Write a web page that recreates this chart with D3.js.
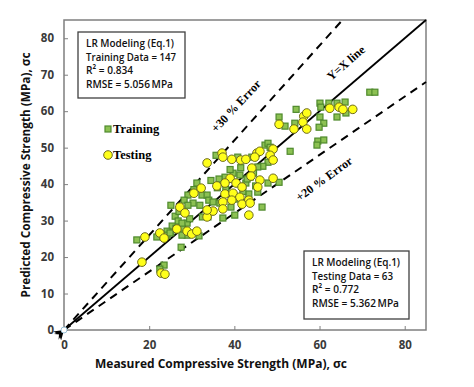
<!DOCTYPE html>
<html><head><meta charset="utf-8">
<script src="https://cdn.jsdelivr.net/npm/d3@7"></script>
<style>html,body{margin:0;padding:0;background:#fff;}svg{display:block;}</style>
</head><body>
<svg id="c" width="474" height="387"></svg>
<script>
// ---- data ----
const xTicks = [0, 20, 40, 60, 80];
const yTicks = [0, 10, 20, 30, 40, 50, 60, 70, 80];
const trainX = [71.8,73.0,60.1,62.2,64.1,66.0,60.3,66.2,64.1,60.1,61.0,59.9,54.5,50.5,51.9,54.2,59.6,61.0,59.4,53.1,
  47.2,47.9,48.4,47.9,46.7,45.5,47.9,50.5,43.7,46.5,45.5,43.4,35.7,40.8,44.1,41.3,39.7,37.8,36.4,42.7,
  43.0,31.2,32.4,33.6,29.1,34.0,28.2,40.6,42.0,39.2,40.1,31.9,30.3,35.0,29.1,37.3,28.9,27.7,28.9,25.1,
  26.1,26.8,27.7,25.4,25.1,24.2,24.2,21.8,27.7,17.1,23.5,22.5,26.3,24.9,31.7,33.8,36.6,27.5,
  39.0,41.5,38.0,44.5,36.0,42.0,45.0,34.5,30.5,27.0,29.5,32.5];
const trainY = [65.2,65.2,62.2,62.2,62.2,62.5,61.1,59.5,58.4,58.4,56.7,55.6,60.5,58.4,55.9,56.7,51.8,52.1,50.7,49.0,
  50.7,51.2,50.1,46.0,44.9,44.7,40.3,40.5,41.9,33.7,37.8,37.3,47.9,47.4,47.4,42.5,43.0,41.9,41.4,40.3,
  41.4,40.3,37.0,37.0,37.0,35.6,35.6,35.9,35.1,33.7,31.5,34.2,34.8,35.1,34.2,30.7,29.3,27.9,26.0,34.2,
  31.2,29.9,29.3,28.5,26.8,27.1,26.0,25.5,26.0,24.7,17.8,16.7,27.9,26.6,25.8,31.0,34.8,22.7,
  44.0,44.5,38.5,43.0,39.0,38.0,39.5,41.0,38.5,32.5,30.5,31.0];
const testX = [62.4,64.6,65.5,67.8,50.5,56.3,57.0,56.1,57.0,54.0,45.3,46.0,44.8,49.1,48.4,49.1,44.1,46.0,45.5,49.1,
  33.6,37.1,37.3,39.4,41.5,42.7,39.0,37.8,35.9,40.4,41.8,43.9,32.2,30.5,37.8,39.7,41.3,43.4,39.4,37.3,
  35.0,37.3,43.4,33.6,27.2,28.4,41.8,43.7,33.6,28.9,30.0,31.2,26.5,22.5,23.5,19.0,18.3,22.8,23.7];
const testY = [60.8,61.1,60.5,60.5,56.4,58.6,59.5,57.0,55.1,55.1,48.5,49.0,47.4,49.6,47.9,46.6,44.4,41.1,39.2,41.6,
  45.8,48.5,47.4,46.8,46.6,46.8,41.6,40.3,39.5,40.3,39.2,42.2,38.9,37.5,37.3,37.5,36.4,35.6,35.6,35.1,
  32.6,33.2,31.5,31.0,33.7,32.1,34.5,34.8,32.9,27.1,26.3,27.1,27.7,26.6,25.2,25.5,18.6,15.6,15.3];
const refSlopes = [1, 1.3, 0.8];
const refDash = ["", "8,6", "8,6"];
const refLabels = ["Y=X line", "+30 % Error", "+20 % Error"];
const box1Lines = ["LR Modeling (Eq.1)", "Training Data = 147", "R\u00B2 = 0.834", "RMSE = 5.056\u2009MPa"];
const box2Lines = ["LR Modeling (Eq.1)", "Testing Data = 63", "R\u00B2 = 0.772", "RMSE = 5.362\u2009MPa"];
const legendNames = ["Training", "Testing"];
const xTitle = "Measured Compressive Strength (MPa), \u03C3c";
const yTitle = "Predicted Compressive Strength (MPa), \u03C3c";

// ---- chart ----
const svg = d3.select("#c");
const L = 64, R = 426, T = 20, B = 330;
const x = d3.scaleLinear().domain([0, 85]).range([L, R]);
const y = d3.scaleLinear().domain([0, 85]).range([B, T]);
const sansFont = "'Open Sans', 'Noto Sans', sans-serif";
const serifFont = "'Liberation Serif', 'DejaVu Serif', serif";

// axes
const xAxis = svg.append("g").attr("transform", `translate(0,${B})`)
  .call(d3.axisBottom(x).tickValues(xTicks).tickSizeInner(-4).tickSizeOuter(0).tickPadding(11));
const yAxis = svg.append("g").attr("transform", `translate(${L},0)`)
  .call(d3.axisLeft(y).tickValues(yTicks).tickSizeInner(-4).tickSizeOuter(0).tickPadding(10));
[xAxis, yAxis].forEach(a => {
  a.select(".domain").remove();
  a.selectAll(".tick line").attr("stroke", "#808080").attr("stroke-width", 1);
  a.selectAll(".tick text").attr("fill", "#3a3a3a").attr("font-family", sansFont)
    .attr("font-weight", "700").attr("font-size", "11.5px");
});

// frame
svg.append("rect").attr("x", L).attr("y", T).attr("width", R - L).attr("height", B - T)
  .attr("fill", "none").attr("stroke", "#7f7f7f").attr("stroke-width", 1.5);

// arrow marker
svg.append("defs").append("marker").attr("id", "arr").attr("viewBox", "0 0 10 10")
  .attr("refX", 0).attr("refY", 5).attr("markerWidth", 5).attr("markerHeight", 5)
  .attr("orient", "auto-start-reverse")
  .append("path").attr("d", "M10,0 L0,5 L10,10 L6,5 Z").attr("fill", "#000");

// reference lines
refSlopes.forEach((k, i) => {
  const xe = Math.min(85, 85 / k);
  svg.append("line")
    .attr("x1", x(0)).attr("y1", y(0)).attr("x2", x(xe)).attr("y2", y(xe * k))
    .attr("stroke", "#000").attr("stroke-width", i === 0 ? 1.8 : 2)
    .attr("stroke-dasharray", refDash[i] || null)
    .attr("marker-start", "url(#arr)");
});

// line labels
const labelPos = [[346, 63, -41], [236, 106, -47], [324, 179, -36]];
refLabels.forEach((t, i) => {
  svg.append("text").attr("transform", `translate(${labelPos[i][0]},${labelPos[i][1]}) rotate(${labelPos[i][2]})`)
    .attr("text-anchor", "middle").attr("dominant-baseline", "central")
    .attr("font-family", serifFont).attr("font-weight", "700").attr("font-size", "12px")
    .attr("fill", "#000").text(t);
});

// origin marker
svg.append("circle").attr("cx", x(0)).attr("cy", y(0)).attr("r", 3)
  .attr("fill", "#fff").attr("stroke", "#9cc3d8").attr("stroke-width", 1);

// points
const trainData = trainX.map((v, i) => [v, trainY[i]]);
const testData = testX.map((v, i) => [v, testY[i]]);
const sq = 6;
svg.append("g").selectAll("rect").data(trainData).join("rect")
  .attr("x", d => x(d[0]) - sq / 2).attr("y", d => y(d[1]) - sq / 2)
  .attr("width", sq).attr("height", sq)
  .attr("fill", "#8cc152").attr("stroke", "#4f8a2d").attr("stroke-width", 1.2);
svg.append("g").selectAll("circle").data(testData).join("circle")
  .attr("cx", d => x(d[0])).attr("cy", d => y(d[1])).attr("r", 4.3)
  .attr("fill", "#ffff1a").attr("stroke", "#6d6a1e").attr("stroke-width", 1);

// legend
svg.append("rect").attr("x", 105).attr("y", 126).attr("width", sq).attr("height", sq)
  .attr("fill", "#8cc152").attr("stroke", "#4f8a2d").attr("stroke-width", 1.2);
svg.append("circle").attr("cx", 108).attr("cy", 155).attr("r", 4.3)
  .attr("fill", "#ffff1a").attr("stroke", "#6d6a1e").attr("stroke-width", 1);
legendNames.forEach((t, i) => {
  svg.append("text").attr("x", 113).attr("y", i === 0 ? 129 : 155)
    .attr("dominant-baseline", "central")
    .attr("font-family", serifFont).attr("font-weight", "700").attr("font-size", "12.5px")
    .attr("fill", "#000").text(t);
});

// info boxes
function infoBox(bx, by, bw, bh, lines, widths, tx, ty0) {
  svg.append("rect").attr("x", bx).attr("y", by).attr("width", bw).attr("height", bh)
    .attr("fill", "#fff").attr("stroke", "#404040").attr("stroke-width", 1.3);
  lines.forEach((t, i) => {
    svg.append("text").attr("x", tx).attr("y", ty0 + i * 13.6)
      .attr("font-family", sansFont).attr("font-weight", "600").attr("font-size", "11px")
      .attr("textLength", widths[i]).attr("lengthAdjust", "spacingAndGlyphs")
      .attr("fill", "#111").text(t);
  });
}
infoBox(78, 32, 107, 66, box1Lines, [88, 90, 47, 87], 86, 47);
infoBox(304, 251, 105, 68, box2Lines, [88, 81, 47, 87], 312, 266);

// axis titles
svg.append("text").attr("x", 221).attr("y", 368).attr("text-anchor", "middle")
  .attr("font-family", sansFont).attr("font-weight", "700").attr("font-size", "13px")
  .attr("textLength", 252).attr("lengthAdjust", "spacingAndGlyphs")
  .attr("fill", "#111").text(xTitle);
svg.append("text").attr("transform", "translate(30,175) rotate(-90)").attr("text-anchor", "middle")
  .attr("font-family", sansFont).attr("font-weight", "700").attr("font-size", "13px")
  .attr("textLength", 245).attr("lengthAdjust", "spacingAndGlyphs")
  .attr("fill", "#111").text(yTitle);
</script>
</body></html>
